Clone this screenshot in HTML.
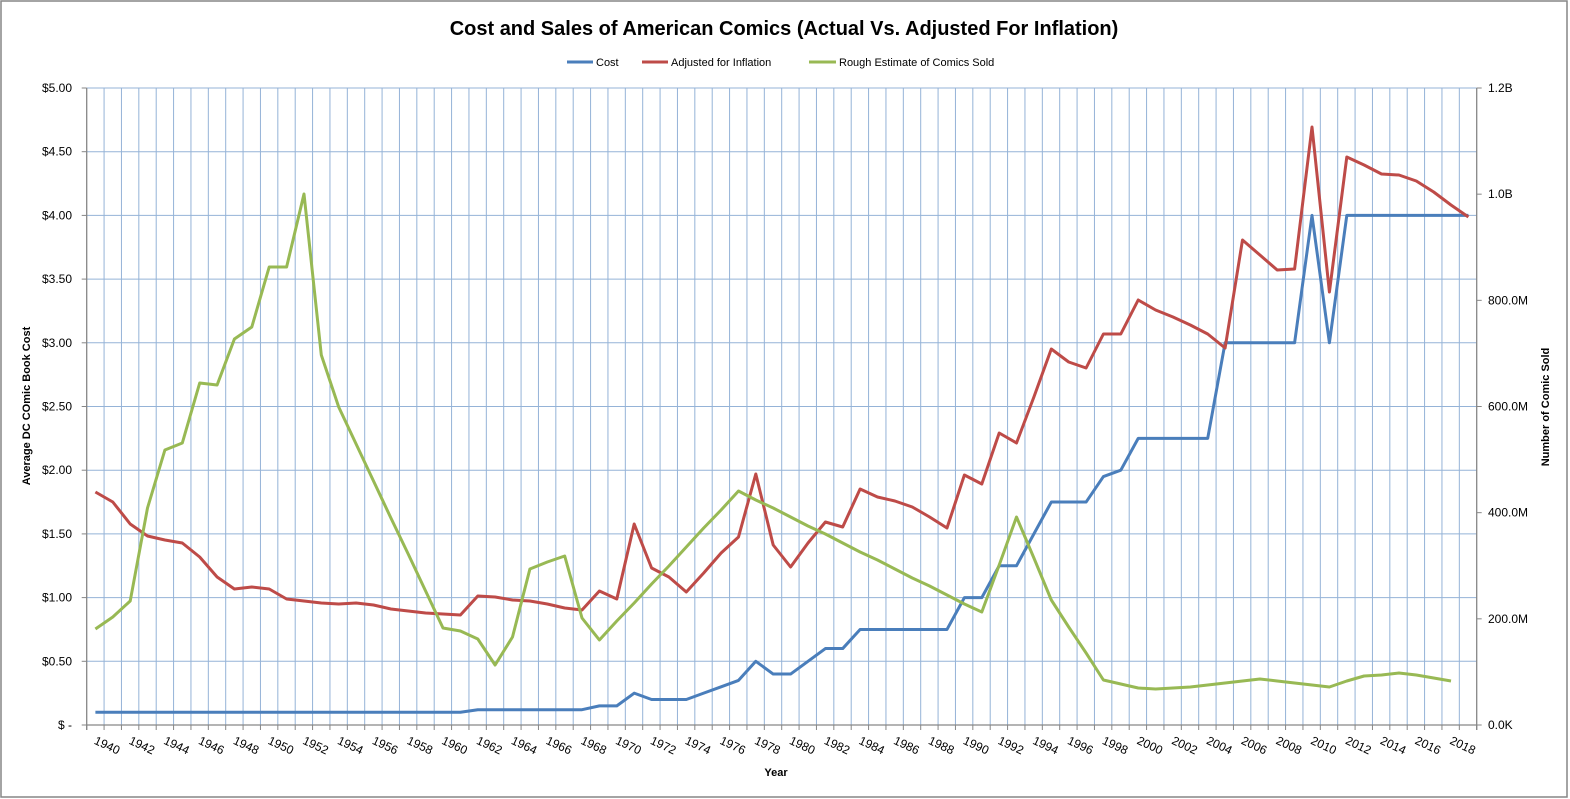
<!DOCTYPE html>
<html><head><meta charset="utf-8"><style>
html,body{margin:0;padding:0;background:#fff;}
svg{display:block;font-family:"Liberation Sans",sans-serif;}
</style></head><body>
<svg id="c" width="1570" height="799" viewBox="0 0 1570 799" xmlns="http://www.w3.org/2000/svg">
<rect x="1" y="1" width="1566" height="796" fill="#fff" stroke="#868686" stroke-width="1.5"/>
<text x="784" y="35" text-anchor="middle" font-size="20" font-weight="bold" fill="#000">Cost and Sales of American Comics (Actual Vs. Adjusted For Inflation)</text>
<g font-size="11" fill="#000">
<line x1="567" y1="62" x2="593" y2="62" stroke="#4a7ebb" stroke-width="3"/><text x="596" y="66">Cost</text>
<line x1="642" y1="62" x2="668" y2="62" stroke="#be4b48" stroke-width="3"/><text x="671" y="66">Adjusted for Inflation</text>
<line x1="809" y1="62" x2="836" y2="62" stroke="#98b954" stroke-width="3"/><text x="839" y="66">Rough Estimate  of Comics Sold</text>
</g>
<g id="grid"></g>
<g id="series" fill="none" stroke-width="3" stroke-linejoin="round"></g>
<g id="labels" font-size="12" fill="#000"></g>
<text transform="translate(30,406) rotate(-90)" text-anchor="middle" font-size="11" font-weight="bold">Average DC COmic Book Cost</text>
<text transform="translate(1549,407) rotate(-90)" text-anchor="middle" font-size="11" font-weight="bold">Number of Comic Sold</text>
<text x="776" y="776" text-anchor="middle" font-size="11" font-weight="bold">Year</text>
</svg>
<script>
var NS="http://www.w3.org/2000/svg";
function el(p,t,a,txt){var e=document.createElementNS(NS,t);for(var k in a)e.setAttribute(k,a[k]);if(txt!==undefined)e.textContent=txt;document.getElementById(p).appendChild(e);return e;}
var L=86.7,R=1476.7,T=88,B=725,W=(R-L)/80;
// vertical gridlines
for(var i=1;i<80;i++){var x=L+i*W;el("grid","line",{x1:x,y1:T,x2:x,y2:B,stroke:"#95b3d7","stroke-width":1});}
// horizontal gridlines
for(var k=0;k<=10;k++){var y=B-(B-T)*k/10;if(k>0)el("grid","line",{x1:L,y1:y,x2:R,y2:y,stroke:"#95b3d7","stroke-width":1});
 el("grid","line",{x1:L-5,y1:y,x2:L,y2:y,stroke:"#868686","stroke-width":1});
 var lab=k==0?"$ -":"$"+(k*0.5).toFixed(2);el("labels","text",{x:72,y:y+4,"text-anchor":"end"},lab);}
// right ticks
var rl=["0.0K","200.0M","400.0M","600.0M","800.0M","1.0B","1.2B"];
for(var k=0;k<=6;k++){var y=B-(B-T)*k/6;el("grid","line",{x1:R,y1:y,x2:R+5,y2:y,stroke:"#868686","stroke-width":1});el("labels","text",{x:1488,y:y+4},rl[k]);}
// axes
el("grid","line",{x1:L,y1:T,x2:L,y2:B+5,stroke:"#868686","stroke-width":1.3});
el("grid","line",{x1:R,y1:T,x2:R,y2:B+5,stroke:"#868686","stroke-width":1.3});
el("grid","line",{x1:L,y1:B,x2:R,y2:B,stroke:"#868686","stroke-width":1.3});
for(var i=0;i<=80;i++){var x=L+i*W;el("grid","line",{x1:x,y1:B,x2:x,y2:B+5,stroke:"#868686","stroke-width":1});}
// x labels
for(var i=0;i<80;i+=2){var x=95.4+17.38*i+10;el("labels","text",{transform:"translate("+x+",749) rotate(25)","text-anchor":"middle","font-size":"12"},String(1940+i));}
function X(i){return 95.4+17.38*i;}
// blue
var bv=[];for(var i=0;i<80;i++){var v;
 if(i<=21)v=0.10;else if(i<=28)v=0.12;else if(i<=30)v=0.15;else if(i==31)v=0.25;else if(i<=34)v=0.20;else if(i==35)v=0.25;else if(i==36)v=0.30;else if(i==37)v=0.35;else if(i==38)v=0.5;else if(i<=40)v=0.4;else if(i==41)v=0.5;else if(i<=43)v=0.6;else if(i<=49)v=0.75;else if(i<=51)v=1.0;else if(i<=53)v=1.25;else if(i==54)v=1.5;else if(i<=57)v=1.75;else if(i==58)v=1.95;else if(i==59)v=2.0;else if(i<=64)v=2.25;else if(i<=69)v=3.0;else if(i==70)v=4.0;else if(i==71)v=3.0;else v=4.0;
 bv.push(B-127.4*v);}
var red=[492,502,524,536,540,543,557,577,589,587,589,599,601,603,604,603,605,609,611,613,614,615,596,597,600,601,604,608,610,591,599,524,568,577,592,573,553,537,474,545,567,543,522,527,489,497,501,507,517,528,475,484,433,443,397,349,362,368,334,334,300,310,317,325,334,348,240,255,270,269,127,292,157,165,174,175,181,192,205,217];
var grn=[629,617,601,508,450,443,383,385,339,327,267,267,194,355,407,444,481,518,554,591,628,631,639,665,637,569,562,556,618,640,621,603,584,566,547,528,510,491,500,508,517,526,534,543,552,560,569,578,586,595,604,612,565,517,558,600,627,653,680,684,688,689,688,687,685,683,681,679,681,683,685,687,681,676,675,673,675,678,681];
function pl(arr,col){var p=arr.map(function(y,i){return X(i).toFixed(1)+","+y;}).join(" ");el("series","polyline",{points:p,stroke:col});}
pl(bv,"#4a7ebb");pl(red,"#be4b48");pl(grn,"#98b954");
</script>
</body></html>
